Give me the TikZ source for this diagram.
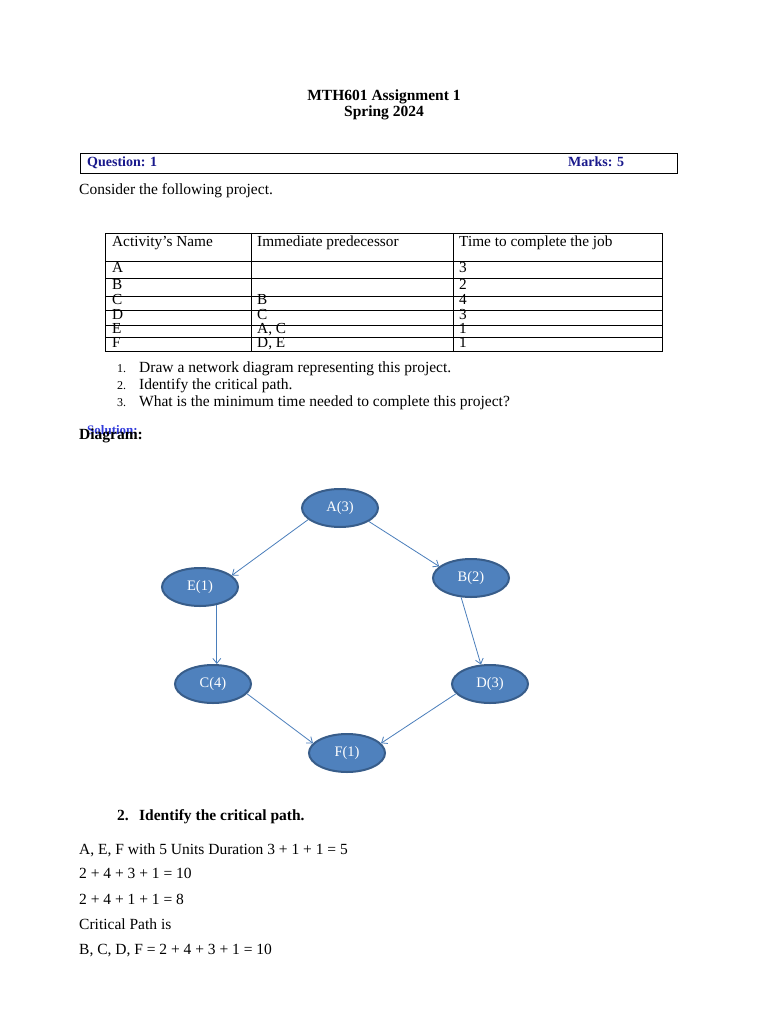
\documentclass[tikz,border=0pt]{standalone}
\usepackage{fontspec}
\setmainfont{Liberation Serif}
\usetikzlibrary{arrows.meta,shapes.geometric}
\definecolor{navyq}{RGB}{25,25,140}
\definecolor{solblue}{RGB}{50,60,220}
\definecolor{nodefill}{RGB}{79,129,189}
\definecolor{nodeedge}{RGB}{56,93,138}
\definecolor{arrowc}{RGB}{74,126,187}
\tikzset{
  txt/.style={anchor=base west, inner sep=0pt, font=\fontsize{15.5}{18}\selectfont},
  ctxt/.style={anchor=base, inner sep=0pt, font=\fontsize{15.5}{18}\selectfont\bfseries},
  tbl/.style={anchor=base west, inner sep=0pt, font=\fontsize{15.3}{17}\selectfont},
  act/.style={ellipse, draw=nodeedge, fill=nodefill, line width=2pt, minimum width=76pt, minimum height=38pt, inner sep=0pt, text=white, font=\fontsize{14.5}{16}\selectfont},
  conn/.style={draw=arrowc, line width=0.8pt, -{Straight Barb[length=5pt,width=8pt]}}
}
\begin{document}
\begin{tikzpicture}[x=1pt,y=-1pt]
\useasboundingbox (0,0) rectangle (768,1024);
\fill[white] (0,0) rectangle (768,1024);
% title
\node[ctxt] (t1) at (384,101) {MTH601 Assignment 1};
\node[ctxt] (t2) at (384,117) {Spring 2024};
% question box
\draw[line width=0.8pt] (80,153) rectangle (677,173);
\node[txt, font=\fontsize{14}{16}\selectfont\bfseries, text=navyq] (q) at (87,167) {Question: 1};
\node[txt, font=\fontsize{14}{16}\selectfont\bfseries, text=navyq] (m) at (568,167) {Marks: 5};
\node[txt] (cons) at (79,195) {Consider the following project.};
% table
\draw[line width=0.8pt] (105,233) rectangle (662,351);
\foreach \yy in {261,278,296,310,325,337} \draw[line width=0.8pt] (105,\yy) -- (662,\yy);
\draw[line width=0.8pt] (251,233) -- (251,351);
\draw[line width=0.8pt] (453,233) -- (453,351);
\node[tbl] (h1) at (112,246) {Activity’s Name};
\node[tbl] (h2) at (257,246) {Immediate predecessor};
\node[tbl] (h3) at (459,246) {Time to complete the job};
\node[tbl] (ra) at (112,272) {A};   \node[tbl] (ta) at (459,272) {3};
\node[tbl] (rb) at (112,289) {B};   \node[tbl] (tb) at (459,289) {2};
\node[tbl] (rc) at (112,304) {C};   \node[tbl] (pc) at (257,304) {B};    \node[tbl] (tc) at (459,304) {4};
\node[tbl] (rd) at (112,319) {D};   \node[tbl] (pd) at (257,319) {C};    \node[tbl] (td) at (459,319) {3};
\node[tbl] (re) at (112,333) {E};   \node[tbl] (pe) at (257,333) {A, C}; \node[tbl] (te) at (459,333) {1};
\node[tbl] (rf) at (112,347) {F};   \node[tbl] (pf) at (257,347) {D, E}; \node[tbl] (tf) at (459,347) {1};
% list
\node[txt, font=\fontsize{12}{14}\selectfont] (n1) at (117,372) {1.};
\node[txt] (l1) at (139,372) {Draw a network diagram representing this project.};
\node[txt, font=\fontsize{12}{14}\selectfont] (n2) at (117,389) {2.};
\node[txt] (l2) at (139,389) {Identify the critical path.};
\node[txt, font=\fontsize{12}{14}\selectfont] (n3) at (117,406) {3.};
\node[txt] (l3) at (139,406) {What is the minimum time needed to complete this project?};
% solution / diagram
\node[txt, font=\fontsize{13}{15}\selectfont\bfseries, text=solblue] (sol) at (87,434) {Solution:};
\node[txt, font=\fontsize{15.5}{18}\selectfont\bfseries] (diag) at (79,439) {Diagram:};
% network
\node[act] (A) at (340,508) {A(3)};
\node[act] (B) at (471,578) {B(2)};
\node[act] (E) at (200,587) {E(1)};
\node[act] (C) at (213,684) {C(4)};
\node[act] (D) at (490,684) {D(3)};
\node[act] (F) at (347,753) {F(1)};
\draw[conn] (A.200) -- (E.20);
\draw[conn] (A.-25) -- (B.160);
\draw[conn] (E.-47) -- (E.-47 |- C.north);
\draw[conn] (B.243) -- (D.115);
\draw[conn] (C.-16) -- (F.164);
\draw[conn] (D.196) -- (F.16);
% answers
\node[txt, font=\fontsize{15.5}{18}\selectfont\bfseries] (s2n) at (117,820) {2.};
\node[txt, font=\fontsize{15.5}{18}\selectfont\bfseries] (s2) at (139,820) {Identify the critical path.};
\node[txt] (a1) at (79,854) {A, E, F with 5 Units Duration 3 + 1 + 1 = 5};
\node[txt] (a2) at (79,878) {2 + 4 + 3 + 1 = 10};
\node[txt] (a3) at (79,904) {2 + 4 + 1 + 1 = 8};
\node[txt] (a4) at (79,929) {Critical Path is};
\node[txt] (a5) at (79,954) {B, C, D, F = 2 + 4 + 3 + 1 = 10};
\end{tikzpicture}
\end{document}
